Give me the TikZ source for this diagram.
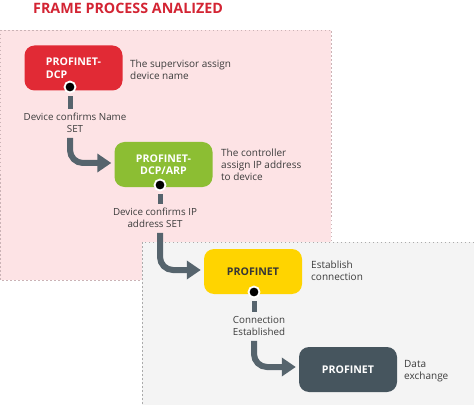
\documentclass[tikz,border=0pt]{standalone}
\usepackage{fontspec}
\setmainfont{Open Sans}
\usetikzlibrary{arrows.meta}
\definecolor{pfred}{HTML}{E12A35}
\definecolor{pfgreen}{HTML}{8CBE33}
\definecolor{pfyellow}{HTML}{FFD400}
\definecolor{pfdark}{HTML}{46555E}
\definecolor{arrowc}{HTML}{56646D}
\definecolor{pinkbg}{HTML}{FDE3E5}
\definecolor{pinkdash}{HTML}{CBB3B6}
\definecolor{graybg}{HTML}{F4F4F4}
\definecolor{graydash}{HTML}{ABABAB}
\definecolor{titlec}{HTML}{D32433}
\definecolor{txt}{HTML}{3C3C3C}
\begin{document}
\begin{tikzpicture}[x=1pt,y=-1pt,
  proc/.style={rectangle, rounded corners=10pt, minimum width=98pt, minimum height=45pt,
    inner sep=0pt, text=white, font=\bfseries\fontsize{10.6}{12.5}\selectfont},
  desc/.style={anchor=west, align=left, text=txt, font=\fontsize{10}{12}\selectfont, inner sep=0pt},
  lab/.style={align=center, text=txt, font=\fontsize{9.8}{12}\selectfont, inner sep=0pt},
  dotn/.style={circle, fill=black, draw=white, line width=1.8pt, minimum size=11pt, inner sep=0pt},
  stub/.style={draw=arrowc, line width=5pt},
  flow/.style={draw=arrowc, line width=6pt, rounded corners=13pt,
    -{Triangle[length=14pt,width=18pt]}, shorten >=3pt}
]
\useasboundingbox (0,0) rectangle (474,409);
% backgrounds
\fill[pinkbg] (0,30) rectangle (331,280);
\draw[pinkdash, line width=0.9pt, dash pattern=on 1.5pt off 2.5pt] (0,30) rectangle (331,280);
\fill[graybg] (142,242) rectangle (474,405);
\draw[graydash, line width=0.9pt, dash pattern=on 1.5pt off 2.5pt] (474,242) -- (142,242) -- (142,405);
% title
\node[anchor=base west, inner sep=0pt, text=titlec, font=\bfseries\fontsize{14.3}{16}\selectfont] (title) at (33,14) {FRAME PROCESS ANALIZED};
% process nodes
\node[proc, fill=pfred, align=left] (n1) at (73.5,68) {PROFINET-\\DCP};
\node[proc, fill=pfgreen, align=center] (n2) at (163.5,164.5) {PROFINET-\\DCP/ARP};
\node[proc, fill=pfyellow, text=txt!90!black] (n3) at (253,271.5) {PROFINET};
\node[proc, fill=pfdark] (n4) at (348,369.5) {PROFINET};
% descriptions
\node[desc] (d1) at (130,70) {The supervisor assign\\device name};
\node[desc] (d2) at (221,165) {The controller\\assign IP address\\to device};
\node[desc] (d3) at (311,271) {Establish\\connection};
\node[desc] (d4) at (404,371) {Data\\exchange};
% labels
\node[lab] (l1) at (75,123) {Device confirms Name\\SET};
\node[lab] (l2) at (155,218) {Device confirms IP\\address SET};
\node[lab] (l3) at (259,326) {Connection\\Established};
% dots
\node[dotn] (p1) at (70,87) {};
\node[dotn] (p2) at (160,185) {};
\node[dotn] (p3) at (254,292) {};
% stubs
\draw[stub] ([yshift=-3pt]p1.south) -- ([yshift=4pt]p1 |- l1.north);
\draw[stub] ([yshift=-3pt]p2.south) -- ([yshift=4pt]p2 |- l2.north);
\draw[stub] ([yshift=-3pt]p3.south) -- ([yshift=4pt]p3 |- l3.north);
% flow arrows
\draw[flow] ([yshift=-5pt]p1 |- l1.south) |- ([yshift=1.5pt]n2.west);
\draw[flow] ([yshift=-5pt]p2 |- l2.south) |- ([yshift=1.5pt]n3.west);
\draw[flow] ([yshift=-5pt]p3 |- l3.south) |- ([yshift=2.5pt]n4.west);
\end{tikzpicture}
\end{document}
